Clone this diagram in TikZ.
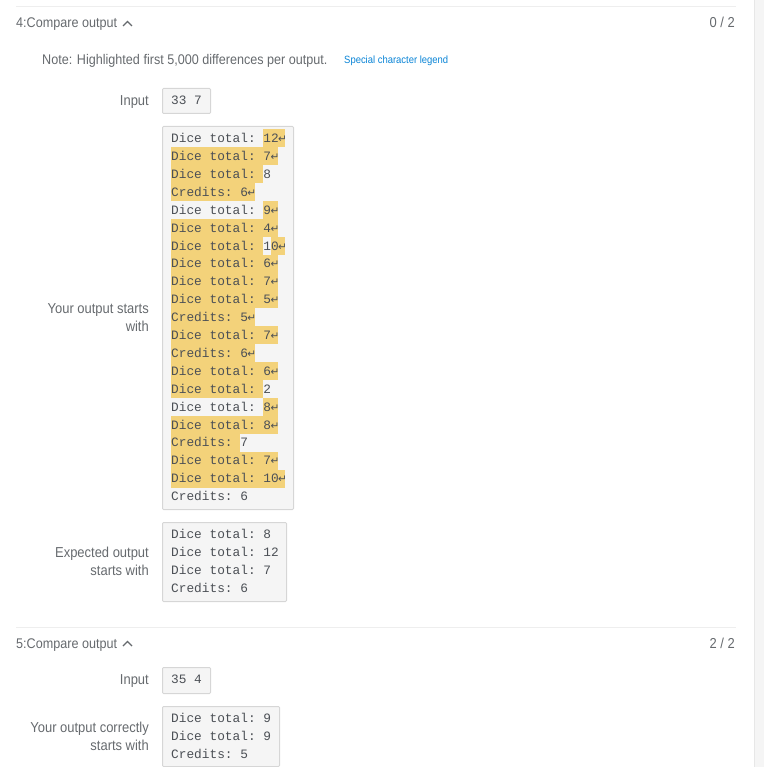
\documentclass[tikz,border=0pt]{standalone}
\usepackage{fontspec}
\setsansfont[FakeStretch=0.9]{Liberation Sans}
\setmonofont{Liberation Mono}
\newfontfamily\symfont{DejaVu Sans}
\definecolor{labelgray}{HTML}{666A6E}
\definecolor{codegray}{HTML}{4C5056}
\definecolor{boxfill}{HTML}{F5F5F5}
\definecolor{boxline}{HTML}{D6D6D6}
\definecolor{rulegray}{HTML}{EEEEEE}
\definecolor{hilite}{HTML}{F3D27A}
\definecolor{linkblue}{HTML}{0A84D6}
\newcommand{\ret}{\makebox[7.68pt][c]{\symfont\fontsize{10.5}{10.5}\selectfont ↵}}
\tikzset{
  label/.style={font=\sffamily\fontsize{14.4}{18}\selectfont, text=labelgray, inner sep=0pt, align=right},
  head/.style={font=\sffamily\fontsize{14}{18}\selectfont, text=labelgray, inner sep=0pt, anchor=base west},
  code/.style={font=\ttfamily\fontsize{12.8}{18}\selectfont, text=codegray, inner sep=0pt, anchor=base west},
  codebox/.style={draw=boxline, fill=boxfill, line width=1pt, rounded corners=1pt},
  hi/.style={fill=hilite, draw=none},
  sect/.style={draw=rulegray, line width=1pt},
  chev/.style={draw=labelgray, line width=1.3pt}
}
\begin{document}
\begin{tikzpicture}[x=1pt, y=-1pt]
\useasboundingbox (0,0) rectangle (767,767);
% scrollbar
\fill[boxfill] (754,0) rectangle (764,767);
\draw[boxline!60, line width=.8pt] (754,0) -- (754,767);
% section 4
\draw[sect] (16,6.5) -- (736,6.5);
\node[head] (headfour) at (16,28) {4:Compare output};
\draw[chev] (123,26) -- (127.5,21.5) -- (132,26);
\node[label, anchor=base east] (scorefour) at (735,28) {0 / 2};
\node[head] (note) at (42,65) {Note: Highlighted first 5,000 differences per output.};
\node[head, font=\sffamily\fontsize{10.5}{12}\selectfont, text=linkblue] (legend) at (344,63.5) {Special character legend};
\node[label, anchor=base east] (inputfour) at (149,106) {Input};
\draw[codebox] (162.5,88.5) rectangle (210.5,113.5);
\node[code] (inputval) at (171,105) {33 7};
\node[label, anchor=base east] (yourlabel) at (149,331) {Your output starts\\with};
\draw[codebox] (162.5,126.5) rectangle (293.5,509.5);
% highlighted runs
\foreach \xa/\xb/\row in {263/285/0, 171/278/1, 171/263/2, 171/255/3, 263/278/4, 171/278/5,
  171/263/6, 271/285/6, 171/278/7, 171/278/8, 171/278/9, 171/255/10, 171/278/11, 171/255/12,
  171/278/13, 171/263/14, 263/278/15, 171/278/16, 171/240/17, 171/278/18, 171/285/19}
  \fill[hi] (\xa,129+17.93*\row) rectangle (\xb,129+17.93*\row+18);
\foreach \row/\txt in {0/Dice total: 12\ret, 1/Dice total: 7\ret, 2/Dice total: 8, 3/Credits: 6\ret,
  4/Dice total: 9\ret, 5/Dice total: 4\ret, 6/Dice total: 10\ret, 7/Dice total: 6\ret,
  8/Dice total: 7\ret, 9/Dice total: 5\ret, 10/Credits: 5\ret, 11/Dice total: 7\ret,
  12/Credits: 6\ret, 13/Dice total: 6\ret, 14/Dice total: 2, 15/Dice total: 8\ret,
  16/Dice total: 8\ret, 17/Credits: 7, 18/Dice total: 7\ret, 19/Dice total: 10\ret, 20/Credits: 6}
  \node[code] (your\row) at (171,142.6+17.9*\row) {\txt};
\node[label, anchor=base east] (expectlabel) at (149,575) {Expected output\\starts with};
\draw[codebox] (162.5,522.5) rectangle (286.5,601.5);
\foreach \row/\txt in {0/Dice total: 8, 1/Dice total: 12, 2/Dice total: 7, 3/Credits: 6}
  \node[code] (expect\row) at (171,538+18*\row) {\txt};
% section 5
\draw[sect] (16,627.5) -- (736,627.5);
\node[head] (headfive) at (16,648) {5:Compare output};
\draw[chev] (123,646) -- (127.5,641.5) -- (132,646);
\node[label, anchor=base east] (scorefive) at (735,648) {2 / 2};
\node[label, anchor=base east] (inputfive) at (149,684) {Input};
\draw[codebox] (162.5,667.5) rectangle (210.5,693.5);
\node[code] (inputvaltwo) at (171,683) {35 4};
\node[label, anchor=base east] (correctlabel) at (149,750) {Your output correctly\\starts with};
\draw[codebox] (162.5,706.5) rectangle (279.5,766.5);
\foreach \row/\txt in {0/Dice total: 9, 1/Dice total: 9, 2/Credits: 5}
  \node[code] (correct\row) at (171,722+18*\row) {\txt};
\end{tikzpicture}
\end{document}
